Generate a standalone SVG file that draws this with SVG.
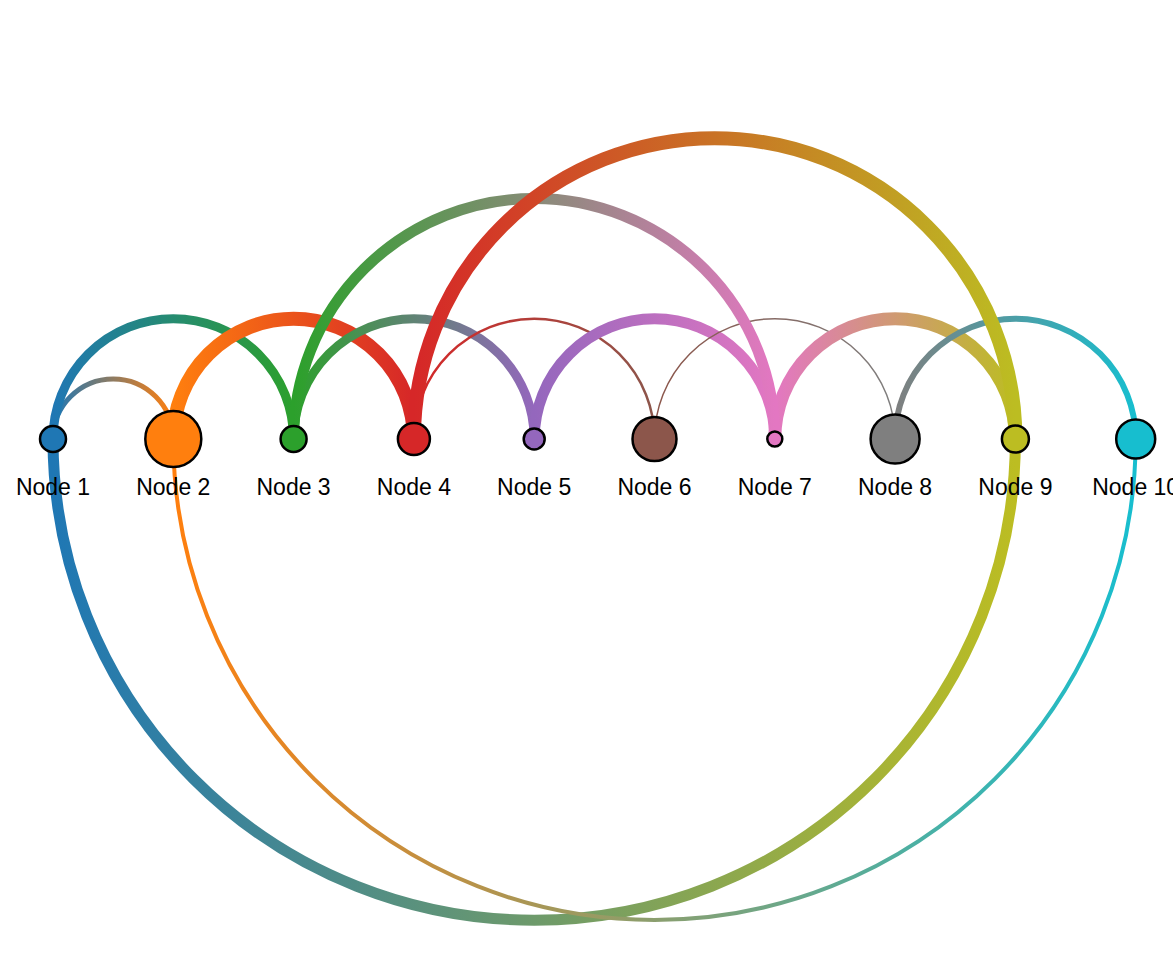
<svg xmlns="http://www.w3.org/2000/svg" width="1173" height="972" viewBox="0 0 1173 972">
<style>
.link{fill:none;}
.node circle{stroke:#000;stroke-width:2.5;}
.node text{font-family:"Liberation Sans",Arial,sans-serif;font-size:23px;fill:#000;text-anchor:middle;}
</style>
<defs>
<linearGradient id="g12" gradientUnits="userSpaceOnUse" x1="53" y1="0" x2="173.3" y2="0"><stop offset="0" stop-color="#1f77b4"/><stop offset="1" stop-color="#ff7f0e"/></linearGradient>
<linearGradient id="g13" gradientUnits="userSpaceOnUse" x1="53" y1="0" x2="293.6" y2="0"><stop offset="0" stop-color="#1f77b4"/><stop offset="1" stop-color="#2ca02c"/></linearGradient>
<linearGradient id="g24" gradientUnits="userSpaceOnUse" x1="173.3" y1="0" x2="413.9" y2="0"><stop offset="0" stop-color="#ff7f0e"/><stop offset="1" stop-color="#d62728"/></linearGradient>
<linearGradient id="g35" gradientUnits="userSpaceOnUse" x1="293.6" y1="0" x2="534.2" y2="0"><stop offset="0" stop-color="#2ca02c"/><stop offset="1" stop-color="#9467bd"/></linearGradient>
<linearGradient id="g46" gradientUnits="userSpaceOnUse" x1="413.9" y1="0" x2="654.5" y2="0"><stop offset="0" stop-color="#d62728"/><stop offset="1" stop-color="#8c564b"/></linearGradient>
<linearGradient id="g57" gradientUnits="userSpaceOnUse" x1="534.2" y1="0" x2="774.8" y2="0"><stop offset="0" stop-color="#9467bd"/><stop offset="1" stop-color="#e377c2"/></linearGradient>
<linearGradient id="g68" gradientUnits="userSpaceOnUse" x1="654.5" y1="0" x2="895.1" y2="0"><stop offset="0" stop-color="#8c564b"/><stop offset="1" stop-color="#7f7f7f"/></linearGradient>
<linearGradient id="g79" gradientUnits="userSpaceOnUse" x1="774.8" y1="0" x2="1015.4" y2="0"><stop offset="0" stop-color="#e377c2"/><stop offset="1" stop-color="#bcbd22"/></linearGradient>
<linearGradient id="g810" gradientUnits="userSpaceOnUse" x1="895.1" y1="0" x2="1135.7" y2="0"><stop offset="0" stop-color="#7f7f7f"/><stop offset="1" stop-color="#17becf"/></linearGradient>
<linearGradient id="g19" gradientUnits="userSpaceOnUse" x1="53" y1="0" x2="1015.4" y2="0"><stop offset="0" stop-color="#1f77b4"/><stop offset="1" stop-color="#bcbd22"/></linearGradient>
<linearGradient id="g210" gradientUnits="userSpaceOnUse" x1="173.3" y1="0" x2="1135.7" y2="0"><stop offset="0" stop-color="#ff7f0e"/><stop offset="1" stop-color="#17becf"/></linearGradient>
<linearGradient id="g37" gradientUnits="userSpaceOnUse" x1="293.6" y1="0" x2="774.8" y2="0"><stop offset="0" stop-color="#2ca02c"/><stop offset="1" stop-color="#e377c2"/></linearGradient>
<linearGradient id="g49" gradientUnits="userSpaceOnUse" x1="413.9" y1="0" x2="1015.4" y2="0"><stop offset="0" stop-color="#d62728"/><stop offset="1" stop-color="#bcbd22"/></linearGradient>
</defs>
<g id="links">
<path class="link" d="M53 439 A60.15 60.15 0 0 1 173.3 439" stroke="url(#g12)" stroke-width="5"/>
<path class="link" d="M53 439 A120.3 120.3 0 0 1 293.6 439" stroke="url(#g13)" stroke-width="9"/>
<path class="link" d="M173.3 439 A120.3 120.3 0 0 1 413.9 439" stroke="url(#g24)" stroke-width="14"/>
<path class="link" d="M293.6 439 A120.3 120.3 0 0 1 534.2 439" stroke="url(#g35)" stroke-width="9"/>
<path class="link" d="M413.9 439 A120.3 120.3 0 0 1 654.5 439" stroke="url(#g46)" stroke-width="2.5"/>
<path class="link" d="M534.2 439 A120.3 120.3 0 0 1 774.8 439" stroke="url(#g57)" stroke-width="11"/>
<path class="link" d="M654.5 439 A120.3 120.3 0 0 1 895.1 439" stroke="url(#g68)" stroke-width="1.5"/>
<path class="link" d="M774.8 439 A120.3 120.3 0 0 1 1015.4 439" stroke="url(#g79)" stroke-width="13"/>
<path class="link" d="M895.1 439 A120.3 120.3 0 0 1 1135.7 439" stroke="url(#g810)" stroke-width="6"/>
<path class="link" d="M53 439 A481.2 481.2 0 0 0 1015.4 439" stroke="url(#g19)" stroke-width="11"/>
<path class="link" d="M173.3 439 A481.2 481.2 0 0 0 1135.7 439" stroke="url(#g210)" stroke-width="4"/>
<path class="link" d="M293.6 439 A240.6 240.6 0 0 1 774.8 439" stroke="url(#g37)" stroke-width="11"/>
<path class="link" d="M413.9 439 A300.75 300.75 0 0 1 1015.4 439" stroke="url(#g49)" stroke-width="14"/>
</g>
<g id="node1" class="node"><circle cx="53" cy="439" r="13" fill="#1f77b4"/><text x="53" y="495">Node 1</text></g>
<g id="node2" class="node"><circle cx="173.3" cy="439" r="28" fill="#ff7f0e"/><text x="173.3" y="495">Node 2</text></g>
<g id="node3" class="node"><circle cx="293.6" cy="439" r="13" fill="#2ca02c"/><text x="293.6" y="495">Node 3</text></g>
<g id="node4" class="node"><circle cx="413.9" cy="439" r="16" fill="#d62728"/><text x="413.9" y="495">Node 4</text></g>
<g id="node5" class="node"><circle cx="534.2" cy="439" r="10.5" fill="#9467bd"/><text x="534.2" y="495">Node 5</text></g>
<g id="node6" class="node"><circle cx="654.5" cy="439" r="22" fill="#8c564b"/><text x="654.5" y="495">Node 6</text></g>
<g id="node7" class="node"><circle cx="774.8" cy="439" r="7.5" fill="#e377c2"/><text x="774.8" y="495">Node 7</text></g>
<g id="node8" class="node"><circle cx="895.1" cy="439" r="24.5" fill="#7f7f7f"/><text x="895.1" y="495">Node 8</text></g>
<g id="node9" class="node"><circle cx="1015.4" cy="439" r="13.5" fill="#bcbd22"/><text x="1015.4" y="495">Node 9</text></g>
<g id="node10" class="node"><circle cx="1135.7" cy="439" r="19.5" fill="#17becf"/><text x="1135.7" y="495">Node 10</text></g>
</svg>
